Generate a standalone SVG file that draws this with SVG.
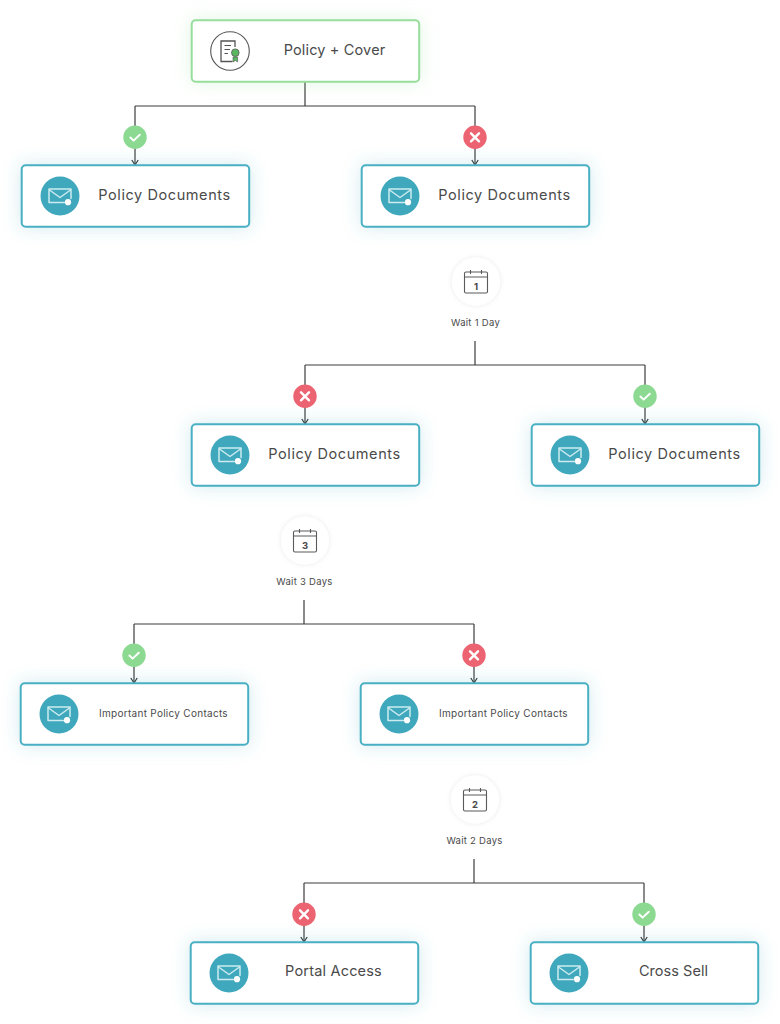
<svg xmlns="http://www.w3.org/2000/svg" width="780" height="1024" viewBox="0 0 780 1024">
<style>
text{font-family:"Inter","Noto Sans","Liberation Sans",sans-serif;fill:#4a4a4a}
.t{font-size:14.500px;text-anchor:middle;letter-spacing:.58px}
.s{font-size:10px;text-anchor:middle;letter-spacing:.28px}
.w{font-size:9.500px;text-anchor:middle;letter-spacing:.28px}
.card{fill:#fff;stroke:#4ab0c4;stroke-width:2}
.green{stroke:#97de9c}
.wire{fill:none;stroke:#3c3c3c;stroke-width:1.2}
.ln{fill:none;stroke:#cdebf0;stroke-width:1.5;stroke-linejoin:round;stroke-linecap:round}
.cal{fill:none;stroke:#5a5a5a;stroke-width:1.1}
</style>
<defs>
<filter id="glowT" x="-20%" y="-60%" width="140%" height="220%"><feDropShadow dx="0" dy="0" stdDeviation="9" flood-color="#43abbf" flood-opacity=".24"/></filter>
<filter id="glowG" x="-20%" y="-60%" width="140%" height="220%"><feDropShadow dx="0" dy="0" stdDeviation="9" flood-color="#8fdc95" flood-opacity=".26"/></filter>
<filter id="soft" x="-30%" y="-30%" width="160%" height="160%"><feDropShadow dx="0" dy="0" stdDeviation="2.500" flood-color="#000" flood-opacity=".09"/></filter>
<marker id="arr" markerWidth="8" markerHeight="8" refX="6.500" refY="4" orient="auto" markerUnits="userSpaceOnUse"><path d="M1.500 .8 6.500 4 1.500 7.200" fill="none" stroke="#333" stroke-width="1.200"/></marker>
<g id="mail">
<circle cx="0" cy="0" r="19.500" fill="#3fa8bd"/>
<path class="ln" d="M4.500 6.500H-11V-7H11V2.500"/>
<path class="ln" d="M-10.500 -6 0 1.500 10.500 -6"/>
<circle cx="8" cy="6.200" r="3.100" fill="#fff"/>
</g>
<g id="ok"><circle r="11.700" fill="#8cd992"/><path d="M-4.600 .2-1.400 3.300 4.800-2.600" fill="none" stroke="#fff" stroke-width="2" stroke-linecap="round" stroke-linejoin="round"/></g>
<g id="no"><circle r="11.700" fill="#ec6472"/><path d="M-4-4 4 4M4-4-4 4" fill="none" stroke="#fff" stroke-width="2.400" stroke-linecap="round"/></g>
<g id="cal">
<circle r="24" fill="#fff" filter="url(#soft)"/>
<rect x="-11.500" y="-9.500" width="23" height="21" rx="1.500" class="cal"/>
<path class="cal" d="M-11.500-4.500H11.500M-5.500-11.500V-7.500M5.500-11.500V-7.500"/>
</g>
</defs>

<g id="connectors">
<path class="wire" d="M305 82V106M135 106H475"/>
<path class="wire" marker-end="url(#arr)" d="M135 106V165"/>
<path class="wire" marker-end="url(#arr)" d="M475 106V165"/>
<path class="wire" d="M475 341V365M305 365H645"/>
<path class="wire" marker-end="url(#arr)" d="M305 365V424"/>
<path class="wire" marker-end="url(#arr)" d="M645 365V424"/>
<path class="wire" d="M304 600V624M134 624H474"/>
<path class="wire" marker-end="url(#arr)" d="M134 624V683"/>
<path class="wire" marker-end="url(#arr)" d="M474 624V683"/>
<path class="wire" d="M474 859V883M304 883H644"/>
<path class="wire" marker-end="url(#arr)" d="M304 883V942"/>
<path class="wire" marker-end="url(#arr)" d="M644 883V942"/>
</g>

<g id="node-policy-cover">
<rect x="191.700" y="20.300" width="227.500" height="61.500" rx="4" class="card green" filter="url(#glowG)"/>
<circle cx="230" cy="51" r="19.300" fill="#fff" stroke="#555" stroke-width="1.100"/>
<path d="M232.500 61.500H221V41H235V47" fill="none" stroke="#555" stroke-width="1.300"/>
<path d="M224.500 45.500H231M224.500 49.500H230M224.500 53.500H228" fill="none" stroke="#555" stroke-width="1.200"/>
<circle cx="235.300" cy="52.700" r="3.800" fill="#5cb860" stroke="#555" stroke-width=".8"/>
<path d="M233 57V62L235.300 60.500 237.600 62V57Z" fill="#5cb860" stroke="#555" stroke-width=".6"/>
<text class="t" x="334.500" y="55" style="letter-spacing:.15px">Policy + Cover</text>
</g>

<g id="node-doc-1"><rect x="21.700" y="165.300" width="227.500" height="61.500" rx="4" class="card" filter="url(#glowT)"/><use href="#mail" x="60" y="196"/><text class="t" x="164.500" y="200">Policy Documents</text></g>
<g id="node-doc-2"><rect x="361.700" y="165.300" width="227.500" height="61.500" rx="4" class="card" filter="url(#glowT)"/><use href="#mail" x="400" y="196"/><text class="t" x="504.500" y="200">Policy Documents</text></g>
<g id="node-doc-3"><rect x="191.700" y="424.300" width="227.500" height="61.500" rx="4" class="card" filter="url(#glowT)"/><use href="#mail" x="230" y="455"/><text class="t" x="334.500" y="459">Policy Documents</text></g>
<g id="node-doc-4"><rect x="531.700" y="424.300" width="227.500" height="61.500" rx="4" class="card" filter="url(#glowT)"/><use href="#mail" x="570" y="455"/><text class="t" x="674.500" y="459">Policy Documents</text></g>
<g id="node-contacts-1"><rect x="20.700" y="683.300" width="227.500" height="61.500" rx="4" class="card" filter="url(#glowT)"/><use href="#mail" x="59" y="714"/><text class="s" x="163.500" y="717">Important Policy Contacts</text></g>
<g id="node-contacts-2"><rect x="360.700" y="683.300" width="227.500" height="61.500" rx="4" class="card" filter="url(#glowT)"/><use href="#mail" x="399" y="714"/><text class="s" x="503.500" y="717">Important Policy Contacts</text></g>
<g id="node-portal"><rect x="190.700" y="942.300" width="227.500" height="61.500" rx="4" class="card" filter="url(#glowT)"/><use href="#mail" x="229" y="973"/><text class="t" x="333.500" y="976" style="letter-spacing:.18px">Portal Access</text></g>
<g id="node-cross"><rect x="530.700" y="942.300" width="227.500" height="61.500" rx="4" class="card" filter="url(#glowT)"/><use href="#mail" x="569" y="973"/><text class="t" x="673.500" y="976" style="letter-spacing:.05px">Cross Sell</text></g>

<g id="badge-1"><use href="#ok" x="135" y="137.300"/></g>
<g id="badge-2"><use href="#no" x="475" y="137.300"/></g>
<g id="badge-3"><use href="#no" x="305" y="396.300"/></g>
<g id="badge-4"><use href="#ok" x="645" y="396.300"/></g>
<g id="badge-5"><use href="#ok" x="134" y="655.300"/></g>
<g id="badge-6"><use href="#no" x="474" y="655.300"/></g>
<g id="badge-7"><use href="#no" x="304" y="914.300"/></g>
<g id="badge-8"><use href="#ok" x="644" y="914.300"/></g>

<g id="wait-1"><use href="#cal" x="476" y="281.500"/><text x="476" y="290" font-size="9.500" font-weight="700" text-anchor="middle">1</text><text class="w" x="475.500" y="326">Wait 1 Day</text></g>
<g id="wait-3"><use href="#cal" x="305" y="540.500"/><text x="305" y="549" font-size="9.500" font-weight="700" text-anchor="middle">3</text><text class="w" x="304.500" y="585">Wait 3 Days</text></g>
<g id="wait-2"><use href="#cal" x="475" y="799.500"/><text x="475" y="808" font-size="9.500" font-weight="700" text-anchor="middle">2</text><text class="w" x="474.500" y="844">Wait 2 Days</text></g>
</svg>
